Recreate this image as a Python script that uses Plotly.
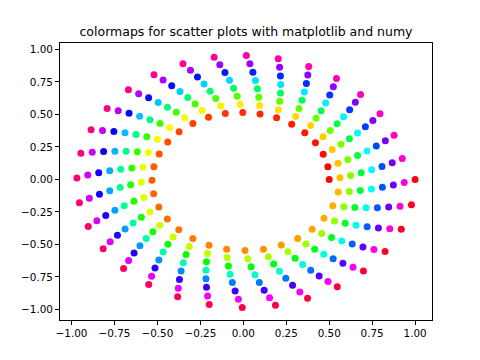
import numpy as np
import plotly.graph_objects as go

# Spiral parameters
n_points = 256          # 32 rays x 8 rings
turns = [8]             # full turns of the spiral
radius_range = [0.5, 1.0]
x_ticks = [-1.0, -0.75, -0.5, -0.25, 0.0, 0.25, 0.5, 0.75, 1.0]
y_ticks = [-1.0, -0.75, -0.5, -0.25, 0.0, 0.25, 0.5, 0.75, 1.0]
title_text = "colormaps for scatter plots with matplotlib and numy"

# matplotlib 'hsv' colormap control points
hsv_stops = [0.0, 0.158730, 0.174603, 0.333333, 0.349206, 0.507937,
             0.666667, 0.682540, 0.841270, 0.857143, 1.0]
hsv_colors = ["rgb(255,0,0)", "rgb(255,239,0)", "rgb(247,255,0)", "rgb(8,255,0)",
              "rgb(0,255,16)", "rgb(0,255,255)", "rgb(0,16,255)", "rgb(8,0,255)",
              "rgb(247,0,255)", "rgb(255,0,239)", "rgb(255,0,24)"]

index = np.arange(n_points)
frac = index / (n_points - 1)
radius = radius_range[0] + (radius_range[1] - radius_range[0]) * frac
theta = 2 * np.pi * turns[0] * frac
x = radius * np.cos(theta)
y = radius * np.sin(theta)

def padded(v):
    lo, hi = float(np.min(v)), float(np.max(v))
    m = 0.05 * (hi - lo)
    return [lo - m, hi + m]

def fmt(v):
    s = f"{abs(v):.2f}"
    return ("\u2212" + s) if v < 0 else s

fig = go.Figure(go.Scatter(
    x=x, y=y, mode="markers",
    marker=dict(size=7, color=index, cmin=0, cmax=n_points - 1,
                colorscale=[[s, c] for s, c in zip(hsv_stops, hsv_colors)],
                line=dict(width=0), showscale=False),
    hoverinfo="skip",
))

axis_common = dict(showgrid=False, zeroline=False, showline=True, linecolor="black",
                   linewidth=1, mirror=True, ticks="outside", ticklen=4,
                   tickwidth=1, tickcolor="black",
                   tickfont=dict(family="DejaVu Sans", size=10.4, color="black"))

# page body has an 8px margin, so the figure is 472x352 and offsets are reduced
W, H = 472, 352
fig.update_layout(
    width=W, height=H,
    margin=dict(l=52, r=48, t=35, b=40),
    paper_bgcolor="white", plot_bgcolor="white",
    showlegend=False,
    title=dict(text=title_text, x=238 / W, xanchor="center",
               y=1 - 24 / H, yanchor="middle",
               font=dict(family="DejaVu Sans", size=12.5, color="black")),
    xaxis=dict(range=padded(x), tickvals=x_ticks, ticktext=[fmt(v) for v in x_ticks],
               **axis_common),
    yaxis=dict(range=padded(y), tickvals=y_ticks, ticktext=[fmt(v) for v in y_ticks],
               **axis_common),
)

fig.write_html("out.html")
